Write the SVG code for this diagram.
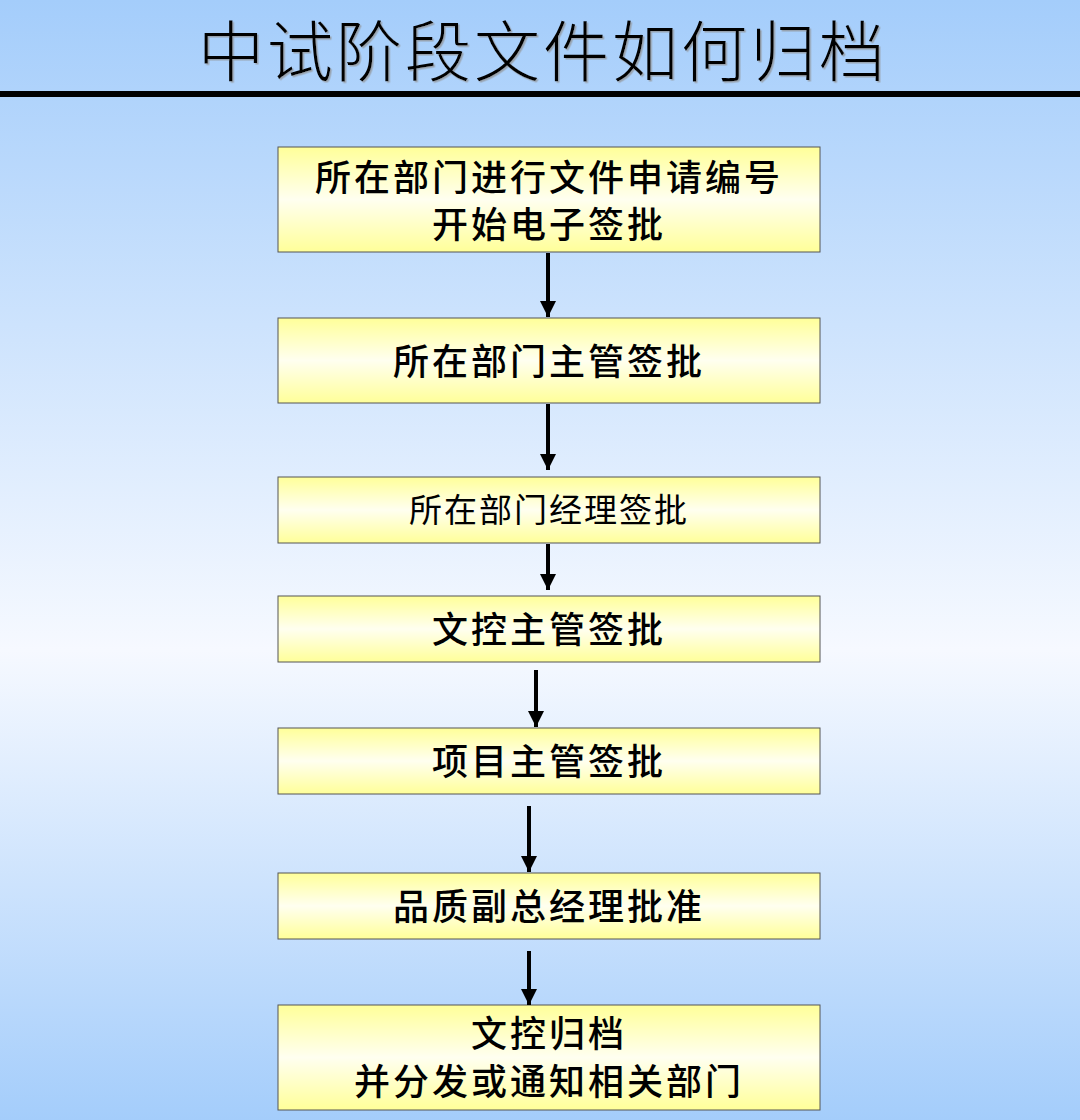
<svg xmlns="http://www.w3.org/2000/svg" width="1080" height="1120" viewBox="0 0 1080 1120">
<defs>
<linearGradient id="bg" x1="0" y1="0" x2="0" y2="1">
<stop offset="0" stop-color="#a4cdfb"/>
<stop offset="0.58" stop-color="#f6f9ff"/>
<stop offset="1" stop-color="#a4cdfb"/>
</linearGradient>
<linearGradient id="box" x1="0" y1="0" x2="0" y2="1">
<stop offset="0" stop-color="#ffff99"/>
<stop offset="0.5" stop-color="#fffff0"/>
<stop offset="1" stop-color="#ffff99"/>
</linearGradient>
<marker id="ah" viewBox="0 0 10 10" refX="10" refY="5" markerWidth="4" markerHeight="4" markerUnits="strokeWidth" orient="auto">
<path d="M0,0 L10,5 L0,10 Z" fill="#000"/>
</marker>
<filter id="sh" x="-5%" y="-10%" width="110%" height="130%">
<feDropShadow dx="1.5" dy="1.5" stdDeviation="0.4" flood-color="#909090" flood-opacity="0.7"/>
</filter>
</defs>
<style>
.node rect{fill:url(#box);stroke:#555;stroke-width:1}
.t{font-family:"Noto Sans CJK SC","Noto Sans CJK TC",sans-serif;font-size:36px;font-weight:500;text-anchor:middle;fill:#000;letter-spacing:3px}
.tl{font-family:"Noto Sans CJK SC",sans-serif;font-size:33px;font-weight:normal;text-anchor:middle;fill:#000;letter-spacing:2px}
.c line{stroke:#000;stroke-width:4;marker-end:url(#ah)}
</style>
<rect x="0" y="0" width="1080" height="1120" fill="url(#bg)"/>
<g id="title">
<text x="543" y="76" font-family="Noto Sans CJK SC,sans-serif" font-size="66" font-weight="300" text-anchor="middle" fill="#000" filter="url(#sh)" letter-spacing="3">中试阶段文件如何归档</text>
<rect x="0" y="91" width="1080" height="6" fill="#000"/>
</g>
<g id="n1" class="node"><rect x="278" y="147" width="542" height="105"/>
<text class="t" x="549" y="191">所在部门进行文件申请编号</text>
<text class="t" x="549" y="238">开始电子签批</text></g>
<g id="n2" class="node"><rect x="278" y="318" width="542" height="85"/>
<text class="t" x="549" y="375">所在部门主管签批</text></g>
<g id="n3" class="node"><rect x="278" y="477" width="542" height="66"/>
<text class="tl" x="549" y="522">所在部门经理签批</text></g>
<g id="n4" class="node"><rect x="278" y="596" width="542" height="66"/>
<text class="t" x="549" y="643">文控主管签批</text></g>
<g id="n5" class="node"><rect x="278" y="728" width="542" height="66"/>
<text class="t" x="549" y="775">项目主管签批</text></g>
<g id="n6" class="node"><rect x="278" y="873" width="542" height="66"/>
<text class="t" x="549" y="920">品质副总经理批准</text></g>
<g id="n7" class="node"><rect x="278" y="1005" width="542" height="105"/>
<text class="t" x="549" y="1047">文控归档</text>
<text class="t" x="549" y="1095">并分发或通知相关部门</text></g>
<g id="connectors" class="c">
<line x1="548" y1="253" x2="548" y2="317"/>
<line x1="548" y1="404" x2="548" y2="470"/>
<line x1="548" y1="544" x2="548" y2="590"/>
<line x1="536" y1="670" x2="536" y2="727"/>
<line x1="529" y1="806" x2="529" y2="872"/>
<line x1="529" y1="951" x2="529" y2="1005"/>
</g>
</svg>
